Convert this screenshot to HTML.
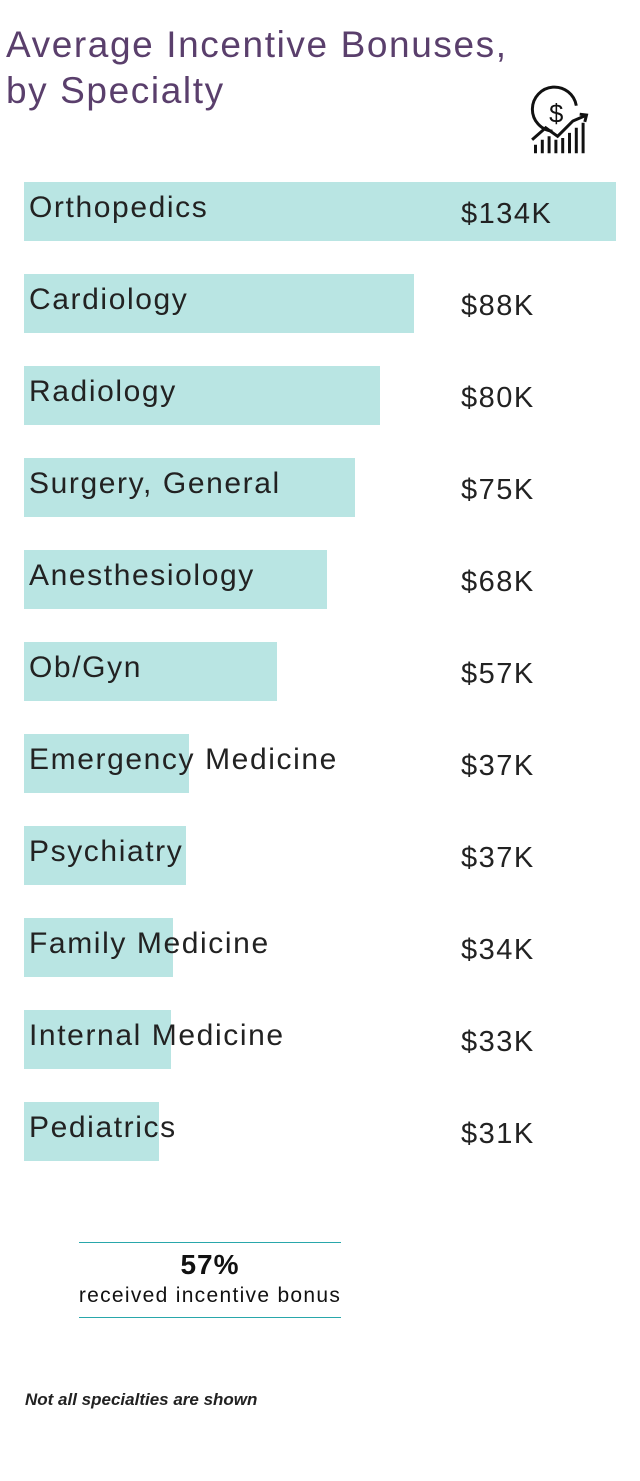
<!DOCTYPE html>
<html><head><style>
body{margin:0;width:640px;height:1481px;background:#fff;font-family:"Liberation Sans",sans-serif;position:relative;overflow:hidden}
.t{position:absolute;left:6px;top:22px;font-size:37px;line-height:46px;color:#5a3f6c;letter-spacing:1.6px}
.bar{position:absolute;left:24px;height:59px;background:#b9e5e3}
.lab{position:absolute;left:29px;font-size:30px;color:#222;line-height:30px;letter-spacing:1.6px;white-space:nowrap}
.val{position:absolute;left:461px;font-size:29px;color:#222;line-height:30px;letter-spacing:1.5px}
.hl{position:absolute;left:79px;width:262px;height:1px;background:#29a7ab}
</style></head><body>
<div class="t">Average Incentive Bonuses,<br>by Specialty</div>
<svg style="position:absolute;left:527px;top:85px" width="68" height="72" viewBox="0 0 80 80" fill="none" stroke="#111" stroke-width="3.5">
<path d="M58 22 A26 26 0 1 0 30 52"/>
<text x="26" y="42" font-size="30" font-family="Liberation Sans" fill="#111" stroke="none">$</text>
<path d="M6 62 L22 48 L36 58 L54 40 L68 34"/><path d="M62 32 L70 33 L68 41"/>
<path d="M10 78V68M18 78V62M26 78V58M34 78V62M42 78V60M50 78V54M58 78V48M66 78V42"/>
</svg>
<div class="bar" style="top:182px;width:592px"></div>
<div class="bar" style="top:274px;width:390px"></div>
<div class="bar" style="top:366px;width:356px"></div>
<div class="bar" style="top:458px;width:331px"></div>
<div class="bar" style="top:550px;width:303px"></div>
<div class="bar" style="top:642px;width:253px"></div>
<div class="bar" style="top:734px;width:165px"></div>
<div class="bar" style="top:826px;width:162px"></div>
<div class="bar" style="top:918px;width:149px"></div>
<div class="bar" style="top:1010px;width:147px"></div>
<div class="bar" style="top:1102px;width:135px"></div>
<div class="lab" style="top:193px">Orthopedics</div><div class="val" style="top:199px">$134K</div>
<div class="lab" style="top:285px">Cardiology</div><div class="val" style="top:291px">$88K</div>
<div class="lab" style="top:377px">Radiology</div><div class="val" style="top:383px">$80K</div>
<div class="lab" style="top:469px">Surgery, General</div><div class="val" style="top:475px">$75K</div>
<div class="lab" style="top:561px">Anesthesiology</div><div class="val" style="top:567px">$68K</div>
<div class="lab" style="top:653px">Ob/Gyn</div><div class="val" style="top:659px">$57K</div>
<div class="lab" style="top:745px">Emergency Medicine</div><div class="val" style="top:751px">$37K</div>
<div class="lab" style="top:837px">Psychiatry</div><div class="val" style="top:843px">$37K</div>
<div class="lab" style="top:929px">Family Medicine</div><div class="val" style="top:935px">$34K</div>
<div class="lab" style="top:1021px">Internal Medicine</div><div class="val" style="top:1027px">$33K</div>
<div class="lab" style="top:1113px">Pediatrics</div><div class="val" style="top:1119px">$31K</div>
<div class="hl" style="top:1242px"></div>
<div style="position:absolute;left:79px;width:262px;top:1249px;text-align:center;font-size:28px;font-weight:bold;color:#111;line-height:32px;letter-spacing:1px">57%</div>
<div style="position:absolute;left:60px;width:300px;top:1283px;text-align:center;font-size:21px;color:#111;line-height:26px;letter-spacing:1.3px">received incentive bonus</div>
<div class="hl" style="top:1317px"></div>
<div style="position:absolute;left:25px;top:1390px;font-size:17px;font-style:italic;font-weight:bold;color:#222">Not all specialties are shown</div>
</body></html>
